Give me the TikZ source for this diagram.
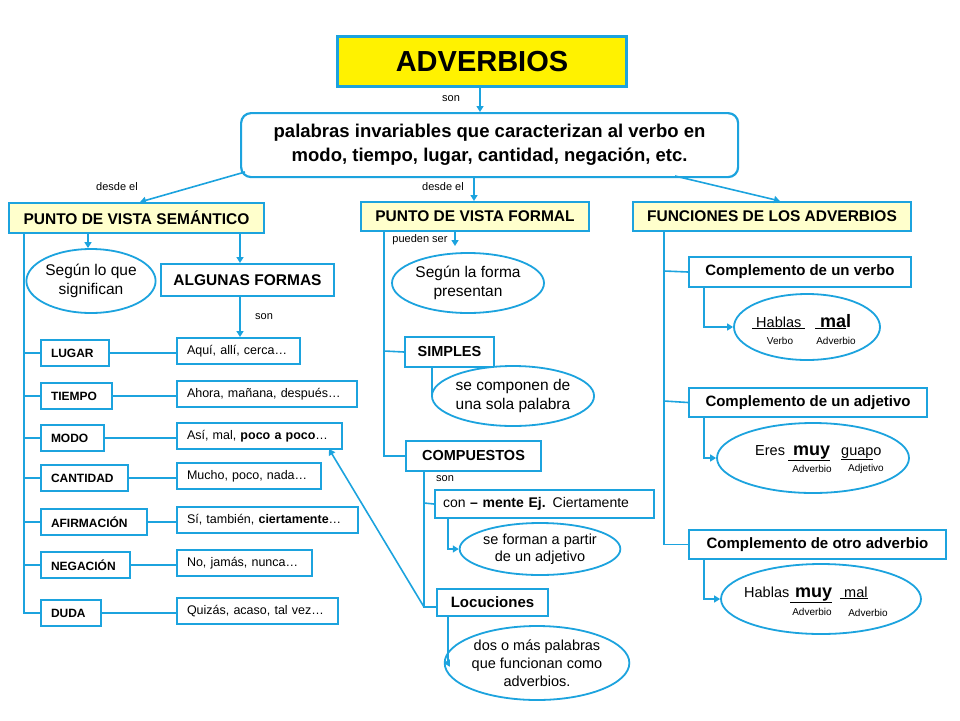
\documentclass[tikz,border=0pt]{standalone}
\usepackage{fontspec}
\setmainfont{Liberation Sans}
\usetikzlibrary{shapes.geometric,arrows.meta}
\definecolor{bl}{HTML}{1CA3DE}
\definecolor{ly}{HTML}{FFFFCC}
\begin{document}
\begin{tikzpicture}[x=1pt,y=-1pt,
  ln/.style={draw=bl,line width=1.6pt},
  ar/.style={ln,-{Triangle[width=7pt,length=6pt]}},
  bx/.style={draw=bl,line width=2pt,fill=white,inner sep=0pt,anchor=north west,font=\bfseries\fontsize{14.5}{17}\selectfont},
  hd/.style={bx,fill=ly,font=\bfseries\fontsize{15.5}{18}\selectfont},
  ex/.style={bx,font=\fontsize{12.5}{14}\selectfont,align=left},
  el/.style={draw=bl,line width=1.8pt,ellipse,inner sep=0pt,fill=white,align=center,font=\fontsize{14.5}{17}\selectfont},
  sm/.style={font=\fontsize{11}{12}\selectfont,inner sep=0pt}]
\useasboundingbox (0,0) rectangle (960,720);
% title
\node[bx,draw=bl,line width=3pt,fill=yellow,minimum width=289pt,minimum height=50pt,font=\bfseries\fontsize{29}{32}\selectfont] (t) at (336,35) {ADVERBIOS};
\node[draw=bl,line width=2.2pt,rounded corners=10pt,minimum width=497pt,minimum height=64pt,anchor=north west,align=center,font=\bfseries\fontsize{18.5}{24}\selectfont] (d) at (240,112) {palabras invariables que caracterizan al verbo en\\ modo, tiempo, lugar, cantidad, negación, etc.};
\draw[ar] (t.south -| 480,0) -- (d.north -| 480,0);
\node[sm] at (451,99) {son};
% headers
\node[hd,minimum width=255pt,minimum height=30pt] (pvs) at (8,202) {PUNTO DE VISTA SEMÁNTICO};
\node[hd,minimum width=228pt,minimum height=29pt] (pvf) at (360,201) {PUNTO DE VISTA FORMAL};
\node[hd,minimum width=278pt,minimum height=29pt] (fun) at (632,201) {FUNCIONES DE LOS ADVERBIOS};
\coordinate (d1) at (245,172); \coordinate (d3) at (675,176);
\draw[ar] (d1) -- (pvs.north -| 140,0);
\draw[ar] (d.south -| 474,0) -- (pvf.north -| 474,0);
\draw[ar] (d3) -- (fun.north -| 780,0);
\node[sm] at (117,187) {desde el};
\node[sm] at (443,187) {desde el};
% semantic
\node[el,minimum width=116pt,minimum height=64pt,font=\fontsize{15.5}{19}\selectfont] (slq) at (91,281) {Según lo que\\significan};
\draw[ar] (pvs.south -| 88,0) -- (slq.north -| 88,0);
\node[bx,minimum width=173pt,minimum height=32pt,font=\bfseries\fontsize{15.5}{18}\selectfont] (alg) at (160,263) {ALGUNAS FORMAS};
\draw[ar] (pvs.south -| 240,0) -- (alg.north -| 240,0);
\node[sm] at (264,317) {son};
\foreach \n/\y/\w/\t/\ew/\et in {
 lug/339/68/LUGAR/123/{Aquí, allí, cerca…},
 tie/382/71/TIEMPO/180/{Ahora, mañana, después…},
 mod/424/63/MODO/165/{Así, mal, \textbf{poco a poco}…},
 can/464/87/CANTIDAD/144/{Mucho, poco, nada…},
 afi/508/106/AFIRMACIÓN/181/{Sí, también, \textbf{ciertamente}…},
 neg/551/89/NEGACIÓN/135/{No, jamás, nunca…},
 dud/599/60/DUDA/161/{Quizás, acaso, tal vez…}}{
 \node[bx,minimum width=\w pt,minimum height=26pt,font=\bfseries\fontsize{12}{14}\selectfont,text width=\w pt-20pt,inner xsep=10pt,align=left] (\n) at (40,\y) {\t};
 \node[ex,minimum width=\ew pt,minimum height=26pt,text width=\ew pt-20pt,inner xsep=10pt] (\n x) at (176,\y-2) {\et};
 \draw[ln] (\n.east) -- (\n x.west |- \n.east);
 \draw[ln] (pvs.south -| 24,0) |- (\n.west);
}
\draw[ar] (alg.south -| 240,0) -- (lugx.north -| 240,0);
% formal
\node[el,minimum width=152pt,minimum height=60pt,font=\fontsize{15.5}{19}\selectfont] (slf) at (468,283) {Según la forma\\presentan};
\draw[ar] (pvf.south -| 455,0) -- (455,246);
\node[sm] at (420,240) {pueden ser};
\node[bx,minimum width=89pt,minimum height=30pt] (sim) at (404,336) {SIMPLES};
\node[el,minimum width=160pt,minimum height=60pt,font=\fontsize{15.5}{19}\selectfont] (scp) at (513,396) {se componen de\\una sola palabra};
\node[bx,minimum width=135pt,minimum height=30pt] (com) at (405,440) {COMPUESTOS};
\draw[ln] (pvf.south -| 384,0) |- (com.west);
\draw[ln] (384,351) -- (sim.west);
\draw[ln] (sim.south -| 432,0) |- (scp.west);
\node[sm] at (445,479) {son};
\node[ex,minimum width=219pt,minimum height=28pt,font=\fontsize{14}{16}\selectfont,text width=203pt,inner xsep=8pt] (men) at (434,489) {con \textbf{– mente\ Ej.} Ciertamente};
\node[el,minimum width=154pt,minimum height=52pt] (sfp) at (540,549) {se forman a partir\\de un adjetivo};
\node[bx,minimum width=111pt,minimum height=27pt,font=\bfseries\fontsize{15}{17}\selectfont] (loc) at (436,588) {Locuciones};
\node[el,minimum width=168pt,minimum height=74pt,font=\fontsize{14.5}{18}\selectfont] (dos) at (537,663) {dos o más palabras\\que funcionan como\\adverbios.};
\coordinate (lc) at (424,607);
\draw[ln] (com.south -| 424,0) -- (lc) -- (loc.west |- lc);
\draw[ln] (424,503) -- (men.west);
\draw[ar] (men.south -| 448,0) |- (sfp.west);
\draw[ar] (loc.south -| 448,0) |- (dos.west);
\draw[ar] (lc) -- (329,449);
% functions
\node[bx,minimum width=222pt,minimum height=30pt,font=\bfseries\fontsize{15}{17}\selectfont] (cv) at (688,256) {Complemento de un verbo};
\node[bx,minimum width=238pt,minimum height=29pt,font=\bfseries\fontsize{15}{17}\selectfont] (ca) at (688,387) {Complemento de un adjetivo};
\node[bx,minimum width=257pt,minimum height=29pt,font=\bfseries\fontsize{15}{17}\selectfont] (co) at (688,529) {Complemento de otro adverbio};
\draw[ln] (fun.south -| 664,0) |- (co.west);
\draw[ln] (664,271) -- (cv.west);
\draw[ln] (664,401) -- (ca.west);
\node[el,minimum width=146pt,minimum height=66pt] (e1) at (807,327) {};
\node[el,minimum width=192pt,minimum height=70pt] (e2) at (813,458) {};
\node[el,minimum width=200pt,minimum height=70pt] (e3) at (821,599) {};
\draw[ar] (cv.south -| 704,0) |- (e1.west);
\draw[ar] (ca.south -| 704,0) |- (e2.west);
\draw[ar] (co.south -| 704,0) |- (e3.west);
\tikzset{w/.style={inner sep=0pt,anchor=base west,font=\fontsize{14.5}{17}\selectfont},
 wb/.style={w,font=\bfseries\fontsize{18}{20}\selectfont}}
\node[w] (h1) at (752,327) {\underline{\ Hablas\ }};
\node[wb] (m1) at (815,327) {\underline{\ ma}l};
\node[sm,font=\fontsize{10}{11}\selectfont] at (780,341) {Verbo}; \node[sm,font=\fontsize{10}{11}\selectfont] at (836,341) {Adverbio};
\node[w] (h2) at (755,455) {Eres};
\node[wb] (m2) at (788,455) {\underline{\ muy}};
\node[w] (g2) at (841,455) {\underline{guap}o};
\node[sm,font=\fontsize{10}{11}\selectfont] at (812,469) {Adverbio}; \node[sm,font=\fontsize{10}{11}\selectfont] at (866,469) {Adjetivo};
\node[w] (h3) at (744,597) {Hablas};
\node[wb] (m3) at (790,597) {\underline{\ muy}};
\node[w] (g3) at (840,597) {\underline{\ mal}};
\node[sm,font=\fontsize{10}{11}\selectfont] at (812,612) {Adverbio}; \node[sm,font=\fontsize{10}{11}\selectfont] at (868,613) {Adverbio};
\end{tikzpicture}
\end{document}
